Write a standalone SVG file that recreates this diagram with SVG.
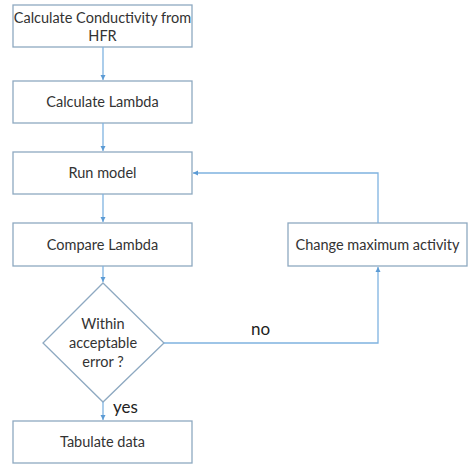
<svg xmlns="http://www.w3.org/2000/svg" width="474" height="474" viewBox="0 0 474 474">
<defs>
<marker id="ah" markerWidth="6" markerHeight="6" refX="5" refY="3" orient="auto" markerUnits="userSpaceOnUse">
<path d="M0,0.5 L5,3 L0,5.5 Z" fill="#5b9bd5"/>
</marker>
</defs>
<style>
.box{fill:#fff;stroke:#8ea9c1;stroke-width:1.3}
.t{font-family:Lato,"Open Sans",sans-serif;font-size:14.5px;fill:#333;text-anchor:middle}
.lbl{font-family:Lato,"Open Sans",sans-serif;font-size:17px;fill:#222}
.c{fill:none;stroke:#7fb3e0;stroke-width:1.3;marker-end:url(#ah)}
</style>
<rect width="474" height="474" fill="#fff"/>
<g id="n1"><rect class="box" x="13" y="5" width="179" height="42"/><text class="t" x="102.5" y="23">Calculate Conductivity from</text><text class="t" x="102.5" y="41">HFR</text></g>
<g id="n2"><rect class="box" x="13" y="81" width="179" height="42"/><text class="t" x="102.5" y="107">Calculate Lambda</text></g>
<g id="n3"><rect class="box" x="13" y="152" width="179" height="42"/><text class="t" x="102.5" y="178">Run model</text></g>
<g id="n4"><rect class="box" x="13" y="223" width="179" height="43"/><text class="t" x="102.5" y="249.5">Compare Lambda</text></g>
<g id="n5"><polygon class="box" points="103,283 164,343 103,402 43,343"/><text class="t" x="103" y="329">Within</text><text class="t" x="103" y="348">acceptable</text><text class="t" x="103" y="367">error ?</text></g>
<g id="n6"><rect class="box" x="13" y="421" width="179" height="42"/><text class="t" x="102.5" y="447">Tabulate data</text></g>
<g id="n7"><rect class="box" x="288" y="223" width="179" height="43"/><text class="t" x="377.5" y="249.5">Change maximum activity</text></g>
<g id="connectors">
<line class="c" x1="103" y1="47" x2="103" y2="80"/>
<line class="c" x1="103" y1="123" x2="103" y2="151"/>
<line class="c" x1="103" y1="194" x2="103" y2="222"/>
<line class="c" x1="103" y1="266" x2="103" y2="282"/>
<line class="c" x1="103" y1="402" x2="103" y2="420"/>
<polyline class="c" points="164,343 378,343 378,267"/>
<polyline class="c" points="378,223 378,173 193,173"/>
</g>
<text class="lbl" x="251" y="335">no</text>
<text class="lbl" x="113" y="413">yes</text>
</svg>
